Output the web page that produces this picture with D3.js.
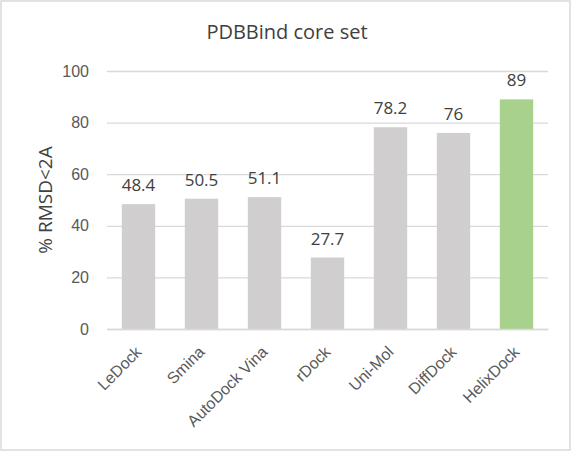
<!DOCTYPE html>
<html>
<head>
<meta charset="utf-8">
<script src="https://cdn.jsdelivr.net/npm/d3@7"></script>
<style>
  body { margin: 0; background: #fff; }
  svg { display: block; font-family: "Open Sans", "Liberation Sans", sans-serif; }
</style>
</head>
<body>
<svg id="chart"></svg>
<script>
const methods = ["LeDock", "Smina", "AutoDock Vina", "rDock", "Uni-Mol", "DiffDock", "HelixDock"];
const successRate = [48.4, 50.5, 51.1, 27.7, 78.2, 76, 89];
const yTicks = [0, 20, 40, 60, 80, 100];

const width = 572, height = 452;
const margin = { top: 71, right: 24, bottom: 123, left: 107 };

const svg = d3.select("#chart").attr("width", width).attr("height", height);

// outer frame
svg.append("rect")
    .attr("x", 1).attr("y", 1)
    .attr("width", width - 3).attr("height", height - 3)
    .attr("fill", "#fff")
    .attr("stroke", "#d9d9d9")
    .attr("stroke-width", 1.5);

const x = d3.scaleBand()
    .domain(methods)
    .range([margin.left, width - margin.right])
    .paddingInner(0.47)
    .paddingOuter(0.235);

const y = d3.scaleLinear()
    .domain([0, 100])
    .range([height - margin.bottom, margin.top]);

// gridlines + y labels
const yAxis = svg.append("g")
    .attr("transform", `translate(${margin.left},0)`)
    .call(d3.axisLeft(y).tickValues(yTicks).tickSize(-(width - margin.left - margin.right)).tickPadding(18));
yAxis.select(".domain").remove();
yAxis.selectAll(".tick line").attr("stroke", "#d9d9d9").attr("stroke-width", 1.3);
yAxis.selectAll(".tick text")
    .attr("fill", "#595959")
    .style("font-size", "16px");

svg.append("g")
    .selectAll("rect")
    .data(methods)
    .enter()
    .append("rect")
    .attr("x", d => x(d))
    .attr("width", x.bandwidth())
    .attr("y", (d, i) => y(successRate[i]))
    .attr("height", (d, i) => y(0) - y(successRate[i]))
    .attr("fill", d => d === "HelixDock" ? "#a9d18e" : "#d0cece");

// value labels
svg.append("g")
    .selectAll("text")
    .data(methods)
    .enter()
    .append("text")
    .attr("x", d => x(d) + x.bandwidth() / 2)
    .attr("y", (d, i) => y(successRate[i]) - 13)
    .attr("text-anchor", "middle")
    .attr("fill", "#404040")
    .style("font-size", "17px")
    .text((d, i) => successRate[i]);

// x axis
const xAxis = svg.append("g")
    .attr("transform", `translate(0,${y(0)})`)
    .call(d3.axisBottom(x).tickSize(0).tickPadding(0));
xAxis.select(".domain").attr("stroke", "#d9d9d9").attr("stroke-width", 1.3);
xAxis.selectAll(".tick text")
    .attr("fill", "#595959")
    .style("font-size", "16px")
    .attr("text-anchor", "end")
    .attr("dy", null)
    .attr("transform", "translate(4,24) rotate(-45)");

svg.append("text")
    .attr("x", 287)
    .attr("y", 39)
    .attr("text-anchor", "middle")
    .attr("fill", "#404040")
    .style("font-size", "20px")
    .text("PDBBind core set");

svg.append("text")
    .attr("transform", `translate(52,${(y(0) + y(100)) / 2}) rotate(-90)`)
    .attr("text-anchor", "middle")
    .attr("fill", "#404040")
    .style("font-size", "19px")
    .text("% RMSD<2A");
</script>
</body>
</html>
